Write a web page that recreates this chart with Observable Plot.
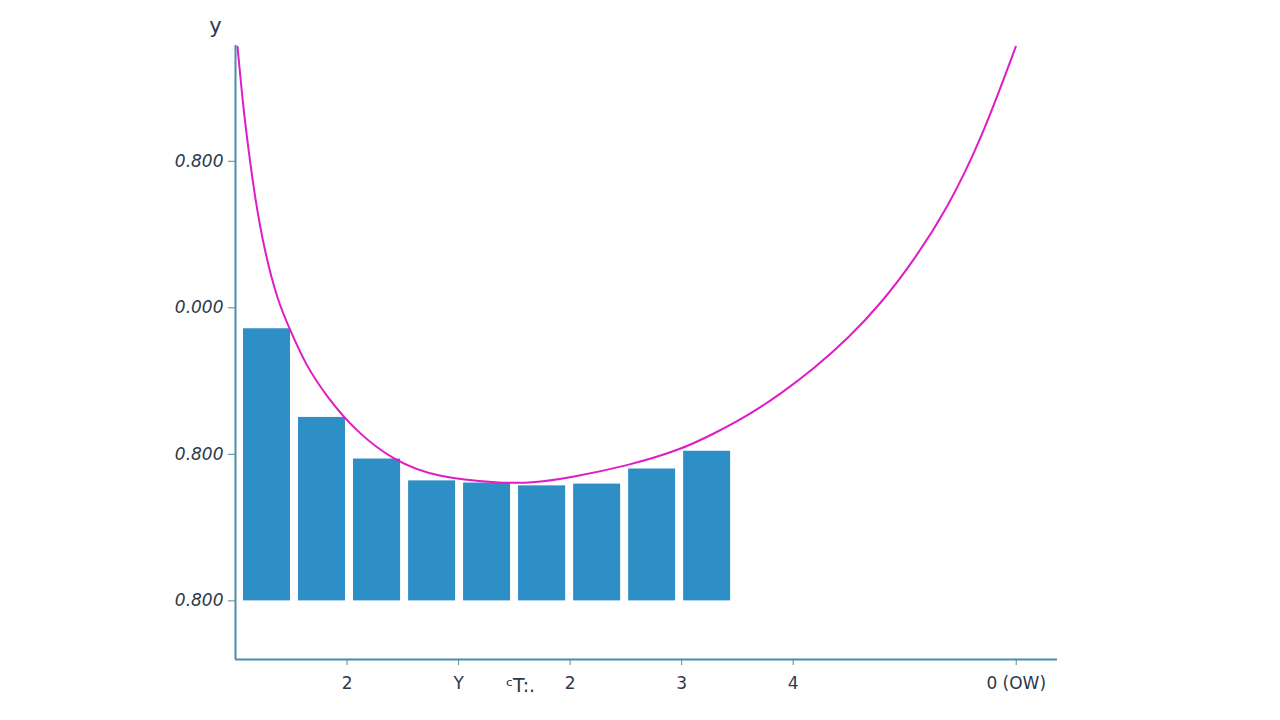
<!DOCTYPE html>
<html>
<head>
<meta charset="utf-8">
<script src="https://cdn.jsdelivr.net/npm/d3@7"></script>
<script src="https://cdn.jsdelivr.net/npm/@observablehq/plot@0.6"></script>
<style>
  html, body { margin: 0; padding: 0; background: #fff; }
  svg { display: block; }
</style>
</head>
<body>
<div id="chart"></div>
<script>
// Histogram bins (edges in x units) and bar heights
const binLo = [0.036, 0.529, 1.022, 1.516, 2.009, 2.502, 2.996, 3.489, 3.982];
const binHi = [0.529, 1.022, 1.516, 2.009, 2.502, 2.996, 3.489, 3.982, 4.475];
const barValues = [1.857, 1.252, 0.968, 0.819, 0.804, 0.785, 0.797, 0.900, 1.021];

// Fitted curve samples
const curveX = [0.018, 0.063, 0.117, 0.179, 0.260, 0.377, 0.493, 0.628, 0.825, 1.076, 1.417, 1.812, 2.377, 2.646, 2.996, 3.516, 3.991, 4.287, 4.592, 4.888, 5.184, 5.489, 5.785, 6.081, 6.386, 6.682, 6.996];
const curveY = [3.782, 3.413, 3.072, 2.730, 2.389, 2.048, 1.843, 1.611, 1.386, 1.160, 0.956, 0.840, 0.805, 0.802, 0.840, 0.922, 1.031, 1.140, 1.263, 1.413, 1.584, 1.788, 2.027, 2.321, 2.683, 3.140, 3.782];

// Tick positions and (garbled) labels as in the reference
const xTicks = [1, 2, 3, 4, 5, 7];
const xTickLabels = ["2", "Y", "2", "3", "4", "0 (OW)"];
const yTicks = [0, 1, 2, 3];
const yTickLabels = ["0.800", "0.800", "0.000", "0.800"];
const extraLabel = [{x: 2.556, text: "ᶜT:."}];

const bars = binLo.map((lo, i) => ({x1: lo, x2: binHi[i], y: barValues[i]}));
const curve = curveX.map((x, i) => ({x, y: curveY[i]}));

const axisColor = "#4a8ea6";
const textColor = "#2b3a4c";

const chart = Plot.plot({
  width: 1280,
  height: 720,
  marginLeft: 235,
  marginRight: 223,
  marginTop: 45,
  marginBottom: 61,
  style: {fontFamily: "DejaVu Sans, sans-serif", fontSize: "16px", color: textColor, background: "#fff"},
  x: {domain: [0, 7.37]},
  y: {domain: [-0.4, 3.79]},
  marks: [
    Plot.rectY(bars, {x1: "x1", x2: "x2", y1: 0, y2: "y", fill: "#2e8ec6", insetLeft: 4, insetRight: 4}),
    Plot.line(curve, {x: "x", y: "y", stroke: "#e01cc4", strokeWidth: 2, curve: "basis"}),
    Plot.ruleX([0], {stroke: axisColor, strokeWidth: 2}),
    Plot.ruleY([-0.4], {stroke: axisColor, strokeWidth: 2}),
    Plot.axisX({ticks: xTicks, tickFormat: d => xTickLabels[xTicks.indexOf(d)], tickSize: 6, tickPadding: 11, stroke: axisColor, fill: textColor, fontSize: 17, label: null}),
    Plot.axisY({ticks: yTicks, tickFormat: d => yTickLabels[yTicks.indexOf(d)], tickSize: 7, tickPadding: 5, stroke: axisColor, fill: textColor, fontSize: 17, fontStyle: "italic", label: null}),
    Plot.text(extraLabel, {x: "x", y: -0.4, text: "text", dy: 26, fontSize: 19, fill: textColor}),
    Plot.text(["y"], {frameAnchor: "top-left", dx: -20, dy: -27, fontSize: 21, fill: textColor, textAnchor: "middle"})
  ]
});
document.getElementById("chart").append(chart);
</script>
</body>
</html>
